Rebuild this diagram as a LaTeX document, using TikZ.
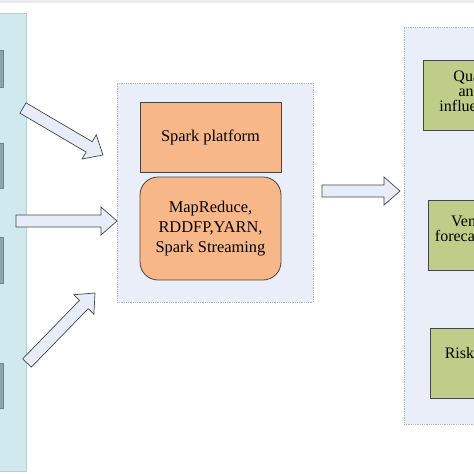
\documentclass[tikz,border=0pt]{standalone}
\usepackage{fontspec}
\setmainfont{Liberation Serif}
\usetikzlibrary{calc}
\definecolor{topgray}{RGB}{236,236,236}
\definecolor{lcyan}{RGB}{207,233,239}
\definecolor{lcyanb}{RGB}{185,205,212}
\definecolor{dteal}{RGB}{140,164,170}
\definecolor{panelfill}{RGB}{233,238,248}
\definecolor{panelline}{RGB}{175,180,192}
\definecolor{orangefill}{RGB}{247,183,136}
\definecolor{greenfill}{RGB}{190,206,136}
\definecolor{arrowfill}{RGB}{231,237,248}
\definecolor{darkline}{RGB}{70,70,70}
\tikzset{
  panel/.style={draw=panelline, densely dotted, fill=panelfill, line width=0.8pt},
  orangebox/.style={draw=darkline, fill=orangefill, line width=0.8pt, minimum width=141pt, inner sep=0pt, align=center, font=\fontsize{16.4}{20}\selectfont},
  greenbox/.style={draw=darkline, fill=greenfill, line width=0.8pt, inner sep=0pt},
  greentext/.style={align=center, inner sep=0pt, font=\fontsize{16}{15}\selectfont},
  barrow/.style={draw=darkline, fill=arrowfill, line width=0.7pt, line join=miter},
  sidebox/.style={draw=dteal!80!black, fill=dteal, line width=0.5pt}
}
\newcommand\blockarrow[2]{%
  \coordinate (#2-base) at ($(#2)!16pt!(#1)$);
  \draw[barrow] ($(#1)!6pt!90:(#2)$) -- ($(#2-base)!6pt!90:(#2)$)
     -- ($(#2-base)!14pt!90:(#2)$) -- (#2)
     -- ($(#2-base)!14pt!-90:(#2)$) -- ($(#2-base)!6pt!-90:(#2)$)
     -- ($(#1)!6pt!-90:(#2)$) -- cycle;}
\begin{document}
\begin{tikzpicture}[x=1pt,y=-1pt]
\useasboundingbox (0,0) rectangle (474,474);
\clip (0,0) rectangle (474,474);
\fill[white] (0,0) rectangle (474,474);
\fill[topgray] (0,0) rectangle (474,3);
% left panel
\draw[fill=lcyan, draw=lcyanb, line width=0.6pt] (-5,13) rectangle (26,471);
\draw[sidebox] (-5,50) rectangle (3,87);
\draw[sidebox] (-5,143) rectangle (3,188);
\draw[sidebox] (-5,237) rectangle (3,283);
\draw[sidebox] (-5,363) rectangle (3,408);
% middle panel
\node[panel, minimum width=196pt, minimum height=219pt, inner sep=0pt] (mid) at (215,192.5) {};
\node[orangebox, minimum height=70pt] (spark) at (210.5,137) {Spark platform};
\node[orangebox, minimum height=103pt, rounded corners=18pt] (mr) at (210.5,228.5) {MapReduce,\\RDDFP,YARN,\\Spark Streaming};
% right panel
\node[panel, minimum width=90pt, minimum height=397pt, inner sep=0pt] (right) at (449,225.5) {};
\node[greenbox, minimum width=130pt, minimum height=70pt] (g1) at (488,95) {};
\node[greentext] (t1) at (493,91) {Quantitative\\analysis of\\influence factors};
\node[greenbox, minimum width=120pt, minimum height=70pt] (g2) at (488,235) {};
\node[greentext] (t2) at (492.5,230) {Venue traffic\\forecasting model};
\node[greenbox, minimum width=116pt, minimum height=70pt] (g3) at (488,363) {};
\node[greentext] (t3) at (497,353) {Risk assessment};
% arrows
\coordinate (a1t) at (23,108); \coordinate (a1h) at (103,155);
\coordinate (a2t) at (16,221); \coordinate (a2h) at (117,221);
\coordinate (a3t) at (27,363); \coordinate (a3h) at (95,293);
\coordinate (a4t) at (322,191); \coordinate (a4h) at (400,191);
\blockarrow{a1t}{a1h}
\blockarrow{a2t}{a2h}
\blockarrow{a3t}{a3h}
\blockarrow{a4t}{a4h}
\end{tikzpicture}
\end{document}
